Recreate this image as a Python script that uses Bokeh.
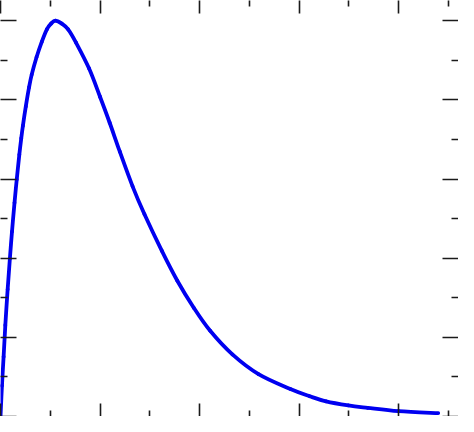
from bokeh.plotting import figure
from bokeh.models import Range1d, LinearAxis, FixedTicker
from bokeh.embed import file_html
from bokeh.resources import INLINE

# Curve values
x_vals = [0.0000, 0.0146, 0.0311, 0.0485, 0.0718, 0.0942, 0.1155, 0.1408, 0.1631,
          0.1893, 0.2087, 0.2252, 0.2544, 0.2874, 0.3136, 0.3621, 0.4146, 0.4660,
          0.5087, 0.5505, 0.6155, 0.6796, 0.7602, 0.8903, 1.0000, 1.0971, 1.1990,
          1.3272, 1.4466, 1.6214, 1.7767, 1.9417, 2.1068, 2.3301, 2.5922, 2.9126,
          3.1068, 3.2718, 3.4951, 3.6893, 4.0000, 4.3981]
y_vals = [0.0000, 0.0779, 0.1509, 0.2311, 0.3212, 0.3990, 0.4672, 0.5401, 0.5985,
          0.6618, 0.7032, 0.7348, 0.7835, 0.8321, 0.8637, 0.9075, 0.9465, 0.9781,
          0.9927, 1.0000, 0.9927, 0.9781, 0.9440, 0.8790, 0.8078, 0.7421, 0.6691,
          0.5815, 0.5109, 0.4185, 0.3431, 0.2749, 0.2165, 0.1569, 0.1071, 0.0694,
          0.0511, 0.0382, 0.0280, 0.0219, 0.0134, 0.0085]

x_major = [0, 1, 2, 3, 4]
x_minor = [0.5, 1.5, 2.5, 3.5, 4.5]
y_major = [0.0, 0.2, 0.4, 0.6, 0.8, 1.0]
y_minor = [0.1, 0.3, 0.5, 0.7, 0.9]

X_MAX = 4.602
Y_MAX = 1.051

p = figure(width=458, height=416, output_backend="svg", toolbar_location=None,
           x_range=Range1d(0, X_MAX), y_range=Range1d(0, Y_MAX),
           min_border=0, outline_line_color=None, background_fill_color="white",
           border_fill_color="white")
p.xgrid.visible = False
p.ygrid.visible = False

# smooth drawing of the read points (Catmull-Rom -> cubic Bezier segments)
n = len(x_vals)
def pt(i):
    i = max(0, min(n - 1, i))
    return x_vals[i], y_vals[i]
x0, y0, x1, y1, cx0, cy0, cx1, cy1 = [], [], [], [], [], [], [], []
for i in range(n - 1):
    pa, pb, pc, pd = pt(i - 1), pt(i), pt(i + 1), pt(i + 2)
    x0.append(pb[0]); y0.append(pb[1])
    x1.append(pc[0]); y1.append(pc[1])
    cx0.append(pb[0] + (pc[0] - pa[0]) / 6.0)
    cy0.append(pb[1] + (pc[1] - pa[1]) / 6.0)
    cx1.append(pc[0] - (pd[0] - pb[0]) / 6.0)
    cy1.append(pc[1] - (pd[1] - pb[1]) / 6.0)

p.bezier(x0=x0, y0=y0, x1=x1, y1=y1, cx0=cx0, cy0=cy0, cx1=cx1, cy1=cy1,
         line_color="#0000F0", line_width=3.8, line_cap="round")

p.add_layout(LinearAxis(), "above")
p.add_layout(LinearAxis(), "right")

def style(ax, major, minor, tin, tmin):
    ax.ticker = FixedTicker(ticks=major, minor_ticks=minor)
    ax.axis_line_color = None
    ax.major_tick_in = tin
    ax.major_tick_out = 0
    ax.minor_tick_in = tmin
    ax.minor_tick_out = 0
    ax.major_tick_line_color = "#1a1a1a"
    ax.minor_tick_line_color = "#1a1a1a"
    ax.major_tick_line_width = 1.6
    ax.minor_tick_line_width = 1.6
    ax.major_label_text_font_size = "0px"
    ax.major_label_text_color = None
    ax.major_label_standoff = 0
    ax.axis_label = None

for ax in p.xaxis:
    style(ax, x_major, x_minor, 13, 6)
for ax in p.yaxis:
    style(ax, y_major, y_minor, 16, 7)

open("out.html", "w").write(file_html(p, INLINE))
